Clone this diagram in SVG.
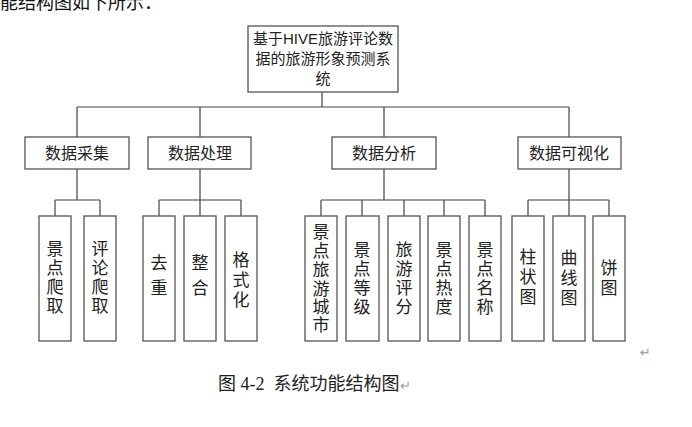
<svg xmlns="http://www.w3.org/2000/svg" width="692" height="427" viewBox="0 0 692 427">
<style>
.b{fill:#fff;stroke:#555;stroke-width:1.3}
.t{font-family:"Liberation Sans","Noto Sans CJK SC",sans-serif;font-size:16px;fill:#222;text-anchor:middle;dominant-baseline:central}
.r{font-size:15px}
.l{font-family:"Liberation Sans","Noto Sans CJK SC",sans-serif;font-size:17px;fill:#222;text-anchor:middle;dominant-baseline:central}
#c path{fill:none;stroke:#444;stroke-width:1.2}
</style>
<rect width="692" height="427" fill="#fff"/>
<text x="0" y="9" font-family="Noto Sans CJK SC,sans-serif" font-size="18" fill="#111">能结构图如下所示：</text>
<g id="c">
<path d="M322 92V107M77 107H569M77 107V137M200 107V137M384 107V137M569 107V137"/>
<path d="M77 169V200M55 200H100M55 200V216M100 200V216"/>
<path d="M200 169V200M159 200H241M159 200V216M200 200V216M241 200V216"/>
<path d="M384 169V200M321 200H485M321 200V216M362 200V216M404 200V216M444 200V216M485 200V216"/>
<path d="M569 169V200M528 200H609M528 200V216M569 200V216M609 200V216"/>
</g>
<g id="root"><rect class="b" x="248" y="26" width="150" height="66"/>
<text class="t r" x="323" y="38">基于HIVE旅游评论数</text><text class="t r" x="323" y="58">据的旅游形象预测系</text><text class="t r" x="323" y="78">统</text></g>
<g id="n1"><rect class="b" x="25" y="137" width="104" height="32"/><text class="t" x="77" y="153">数据采集</text></g>
<g id="n2"><rect class="b" x="148" y="137" width="103" height="32"/><text class="t" x="200" y="153">数据处理</text></g>
<g id="n3"><rect class="b" x="332" y="137" width="104" height="32"/><text class="t" x="384" y="153">数据分析</text></g>
<g id="n4"><rect class="b" x="518" y="137" width="103" height="32"/><text class="t" x="569" y="153">数据可视化</text></g>
<g id="a1"><rect class="b" x="39" y="216" width="32" height="125"/><text class="l" x="55"><tspan x="55" y="249">景</tspan><tspan x="55" y="268">点</tspan><tspan x="55" y="287">爬</tspan><tspan x="55" y="306">取</tspan></text></g>
<g id="a2"><rect class="b" x="84" y="216" width="32" height="125"/><text class="l"><tspan x="100" y="249">评</tspan><tspan x="100" y="268">论</tspan><tspan x="100" y="287">爬</tspan><tspan x="100" y="306">取</tspan></text></g>
<g id="b1"><rect class="b" x="143" y="216" width="32" height="125"/><text class="l"><tspan x="159" y="263">去</tspan><tspan x="159" y="288">重</tspan></text></g>
<g id="b2"><rect class="b" x="184" y="216" width="32" height="125"/><text class="l"><tspan x="200" y="263">整</tspan><tspan x="200" y="288">合</tspan></text></g>
<g id="b3"><rect class="b" x="225" y="216" width="32" height="125"/><text class="l"><tspan x="241" y="260">格</tspan><tspan x="241" y="280">式</tspan><tspan x="241" y="300">化</tspan></text></g>
<g id="c1"><rect class="b" x="305" y="216" width="32" height="125"/><text class="l"><tspan x="321" y="232">景</tspan><tspan x="321" y="251">点</tspan><tspan x="321" y="270">旅</tspan><tspan x="321" y="289">游</tspan><tspan x="321" y="307">城</tspan><tspan x="321" y="325">市</tspan></text></g>
<g id="c2"><rect class="b" x="346" y="216" width="33" height="125"/><text class="l"><tspan x="362" y="250">景</tspan><tspan x="362" y="269">点</tspan><tspan x="362" y="288">等</tspan><tspan x="362" y="307">级</tspan></text></g>
<g id="c3"><rect class="b" x="388" y="216" width="32" height="125"/><text class="l"><tspan x="404" y="250">旅</tspan><tspan x="404" y="269">游</tspan><tspan x="404" y="288">评</tspan><tspan x="404" y="307">分</tspan></text></g>
<g id="c4"><rect class="b" x="428" y="216" width="32" height="125"/><text class="l"><tspan x="444" y="250">景</tspan><tspan x="444" y="269">点</tspan><tspan x="444" y="288">热</tspan><tspan x="444" y="307">度</tspan></text></g>
<g id="c5"><rect class="b" x="469" y="216" width="32" height="125"/><text class="l"><tspan x="485" y="250">景</tspan><tspan x="485" y="269">点</tspan><tspan x="485" y="288">名</tspan><tspan x="485" y="307">称</tspan></text></g>
<g id="d1"><rect class="b" x="512" y="216" width="32" height="125"/><text class="l"><tspan x="528" y="257">柱</tspan><tspan x="528" y="277">状</tspan><tspan x="528" y="297">图</tspan></text></g>
<g id="d2"><rect class="b" x="553" y="216" width="32" height="125"/><text class="l"><tspan x="569" y="258">曲</tspan><tspan x="569" y="278">线</tspan><tspan x="569" y="298">图</tspan></text></g>
<g id="d3"><rect class="b" x="593" y="216" width="32" height="125"/><text class="l"><tspan x="609" y="268">饼</tspan><tspan x="609" y="288">图</tspan></text></g>
<text x="640" y="357" font-family="DejaVu Sans,sans-serif" font-size="13" fill="#999">↵</text>
<text x="218" y="390" font-family="Liberation Serif,Noto Sans CJK SC,serif" font-size="18" fill="#222" xml:space="preserve">图 4-2  系统功能结构图<tspan fill="#999" font-size="13">↵</tspan></text>
</svg>
